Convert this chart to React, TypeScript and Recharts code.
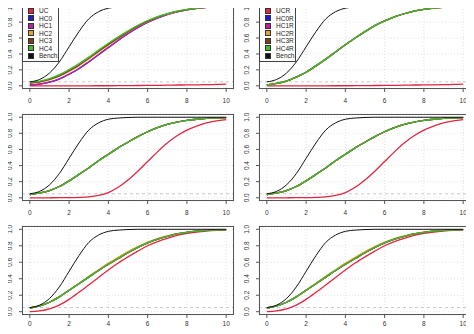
import React from "react";
import { LineChart, Line, XAxis, YAxis, CartesianGrid, ReferenceLine } from "recharts";

const X = [0, 0.5, 1, 1.5, 2, 2.5, 3, 3.5, 4, 4.5, 5, 5.5, 6, 6.5, 7, 7.5, 8, 8.5, 9, 9.5, 10];
const xTicks = [0, 2, 4, 6, 8, 10];
const yTicks = [0, 0.2, 0.4, 0.6, 0.8, 1];

const bench = [0.05, 0.08, 0.16, 0.3, 0.49, 0.68, 0.84, 0.93, 0.975, 0.99, 0.997, 1, 1, 1, 1, 1, 1, 1, 1, 1, 1];

// panel 1
const p1UC = [0, 0, 0, 0, 0, 0, 0, 0.001, 0.001, 0.002, 0.003, 0.004, 0.005, 0.006, 0.008, 0.01, 0.011, 0.013, 0.015, 0.017, 0.02];
const p1HC0 = [0.01, 0.022, 0.045, 0.085, 0.145, 0.215, 0.3, 0.39, 0.48, 0.57, 0.655, 0.73, 0.795, 0.85, 0.895, 0.93, 0.955, 0.972, 0.984, 0.991, 0.995];
const p1HC1 = [0.01, 0.023, 0.046, 0.087, 0.147, 0.218, 0.303, 0.393, 0.483, 0.573, 0.658, 0.733, 0.798, 0.852, 0.896, 0.93, 0.955, 0.972, 0.984, 0.991, 0.995];
const p1HC2 = [0.03, 0.045, 0.075, 0.12, 0.18, 0.25, 0.335, 0.425, 0.51, 0.595, 0.675, 0.75, 0.81, 0.86, 0.9, 0.935, 0.957, 0.974, 0.985, 0.992, 0.996];
const p1HC3 = [0.035, 0.05, 0.08, 0.125, 0.19, 0.26, 0.345, 0.435, 0.52, 0.6, 0.68, 0.752, 0.812, 0.862, 0.902, 0.935, 0.958, 0.974, 0.985, 0.992, 0.996];
const p1HC4 = [0.045, 0.06, 0.09, 0.14, 0.205, 0.28, 0.36, 0.45, 0.535, 0.615, 0.69, 0.76, 0.82, 0.868, 0.906, 0.937, 0.96, 0.975, 0.986, 0.992, 0.996];

// panel 2
const p2UCR = [0, 0, 0, 0, 0, 0, 0, 0.001, 0.001, 0.002, 0.003, 0.004, 0.005, 0.006, 0.008, 0.01, 0.011, 0.013, 0.015, 0.017, 0.02];
const p2HCR = [0.01, 0.03, 0.06, 0.11, 0.17, 0.25, 0.335, 0.425, 0.515, 0.6, 0.68, 0.755, 0.815, 0.865, 0.905, 0.937, 0.96, 0.975, 0.986, 0.992, 0.996];

// row 2
const p3UC = [0, 0, 0, 0.001, 0.002, 0.005, 0.012, 0.03, 0.065, 0.13, 0.22, 0.33, 0.45, 0.57, 0.68, 0.77, 0.84, 0.89, 0.93, 0.955, 0.97];
const p3HC = [0.04, 0.06, 0.09, 0.14, 0.21, 0.29, 0.37, 0.46, 0.54, 0.62, 0.69, 0.76, 0.82, 0.87, 0.91, 0.94, 0.96, 0.975, 0.985, 0.992, 0.996];

// row 3
const p5UC = [0, 0.01, 0.035, 0.08, 0.15, 0.235, 0.325, 0.415, 0.505, 0.59, 0.665, 0.735, 0.8, 0.85, 0.89, 0.925, 0.95, 0.967, 0.979, 0.987, 0.992];
const p5HC = [0.045, 0.07, 0.115, 0.18, 0.26, 0.34, 0.42, 0.5, 0.575, 0.645, 0.715, 0.78, 0.835, 0.88, 0.915, 0.945, 0.963, 0.977, 0.986, 0.992, 0.996];
const p5HC2 = [0.045, 0.07, 0.115, 0.18, 0.26, 0.345, 0.43, 0.51, 0.59, 0.66, 0.73, 0.79, 0.845, 0.888, 0.92, 0.948, 0.966, 0.978, 0.987, 0.993, 0.996];

const labelsL = ["UC", "HC0", "HC1", "HC2", "HC3", "HC4", "Bench."];
const labelsR = ["UCR", "HC0R", "HC1R", "HC2R", "HC3R", "HC4R", "Bench."];
const colors = ["#e3263f", "#1c1cc8", "#c01e9a", "#e6a23a", "#7b3f1e", "#3cbf2a", "#111111"];

const panels = [
  { series: [p1UC, p1HC0, p1HC1, p1HC2, p1HC3, p1HC4, bench], legend: labelsL },
  { series: [p2UCR, p2HCR, p2HCR, p2HCR, p2HCR, p2HCR, bench], legend: labelsR },
  { series: [p3UC, p3HC, p3HC, p3HC, p3HC, p3HC, bench], legend: null },
  { series: [p3UC, p3HC, p3HC, p3HC, p3HC, p3HC, bench], legend: null },
  { series: [p5UC, p5HC, p5HC, p5HC2, p5HC, p5HC, bench], legend: null },
  { series: [p5UC, p5HC, p5HC, p5HC2, p5HC, p5HC, bench], legend: null },
];

const rowTop = [3, 114, 226];
const rowH = [86, 87, 89];
const rowTickMargin = [6, 6, 3];
const FONT = "'Liberation Sans', Arial, sans-serif";

const YTick = (props: any) => {
  const { y, payload } = props;
  const cx = 10;
  return (
    <text x={cx} y={y} transform={`rotate(-90, ${cx}, ${y})`} textAnchor="middle" dominantBaseline="central"
      fontSize={6.5} fill="#333" fontFamily={FONT}>
      {Number(payload.value).toFixed(1)}
    </text>
  );
};

function Panel({ idx }: { idx: number }) {
  const p = panels[idx];
  const row = Math.floor(idx / 2);
  const col = idx % 2;
  const keys = ["s0", "s1", "s2", "s3", "s4", "s5", "s6"];
  const data = X.map((x, i) => {
    const o: any = { x };
    p.series.forEach((s, k) => (o[keys[k]] = s[i]));
    return o;
  });
  const h = rowH[row];
  return (
    <div style={{ position: "absolute", left: col * 237, top: rowTop[row] - 2 }}>
      <LineChart width={237} height={h + 22} data={data} margin={{ top: 2, right: 3, left: 0, bottom: 0 }}>
        <CartesianGrid stroke="#e2e2e2" strokeDasharray="1 2" />
        <XAxis dataKey="x" type="number" domain={[-0.4, 10.4]} ticks={xTicks} allowDataOverflow interval={0}
          height={20} axisLine={false} tickSize={3} tickMargin={rowTickMargin[row]}
          tickLine={{ stroke: "#555" }}
          tick={{ fontSize: 6.5, fill: "#333", fontFamily: FONT }} />
        <YAxis type="number" domain={[-0.04, 1.04]} ticks={yTicks} allowDataOverflow width={22} interval={0}
          axisLine={false} tickSize={3} tickLine={{ stroke: "#555" }} tick={<YTick />} />
        <ReferenceLine y={0.05} stroke="#c8c8c8" strokeDasharray="3 3" strokeWidth={1} />
        {keys.map((k, i) => (
          <Line key={k} dataKey={k} type="monotone" dot={false} isAnimationActive={false}
            stroke={colors[i]} strokeWidth={i === 6 ? 1 : 1.3} />
        ))}
      </LineChart>
      <div style={{ position: "absolute", left: 22, top: 2, width: 212, height: h, border: "1px solid #555",
        boxSizing: "border-box", pointerEvents: "none" }} />
      {p.legend && (
        <div style={{ position: "absolute", left: 22, top: 2, width: 37, height: 59, background: "#fff",
          border: "1px solid #444", boxSizing: "border-box", fontFamily: FONT, fontSize: 6.5, color: "#222" }}>
          {p.legend.map((l, i) => (
            <div key={l} style={{ position: "absolute", left: 5, top: 3 + i * 7.5, height: 7, display: "flex", alignItems: "center" }}>
              <span style={{ display: "inline-block", width: 4, height: 4, background: colors[i], border: "0.5px solid #333", marginRight: 5 }} />
              <span style={{ lineHeight: "7px" }}>{l}</span>
            </div>
          ))}
        </div>
      )}
    </div>
  );
}

export default function App() {
  return (
    <div style={{ position: "relative", width: 474, height: 334, background: "#fff", margin: -8 }}>
      {panels.map((_, i) => <Panel key={i} idx={i} />)}
    </div>
  );
}
